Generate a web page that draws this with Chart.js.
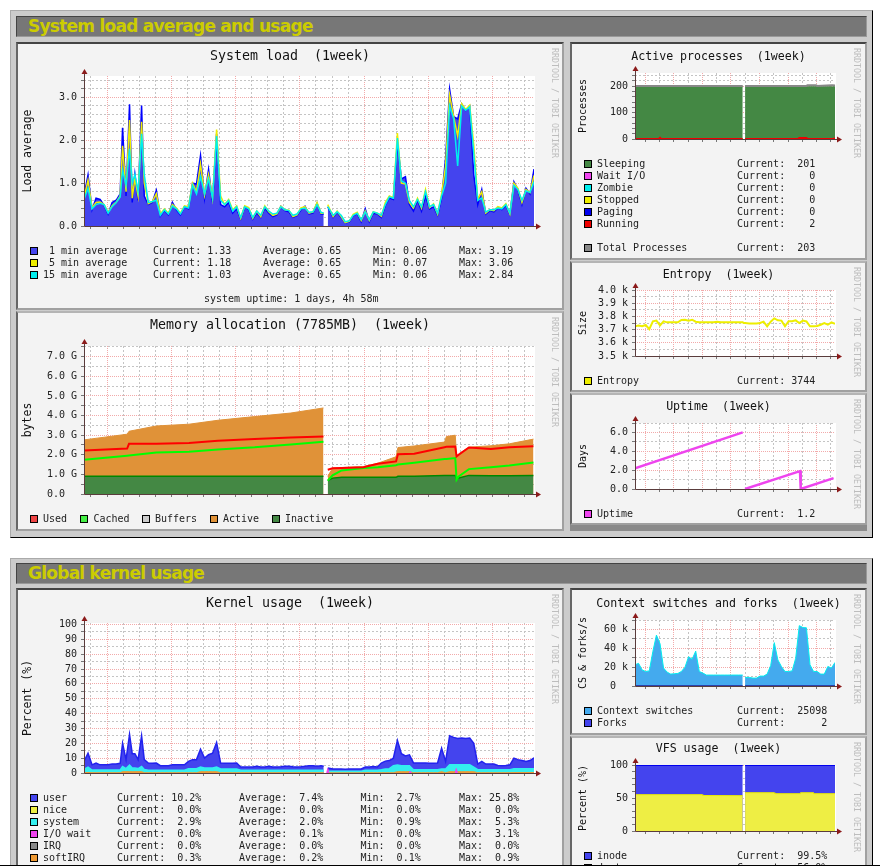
<!DOCTYPE html>
<html>
<head>
<meta charset="utf-8">
<title>System load average and usage</title>
<script src="https://cdn.jsdelivr.net/npm/chart.js@4/dist/chart.umd.min.js"></script>
<style>
html, body { margin: 0; padding: 0; background: #fff; overflow: hidden; width: 880px; height: 866px; }
#page { position: absolute; left: 0; top: 0; width: 880px; height: 866px; overflow: hidden; }
.section { position: absolute; box-sizing: border-box; background: #ccc; border: 1px solid #aaa; border-right-color: #000; border-bottom-color: #000; }
.head { position: absolute; box-sizing: border-box; background: #777; border: 1px solid #444; border-right-color: #999; border-bottom-color: #999;
        color: #cccc00; font: bold 17px "DejaVu Sans", sans-serif; line-height: 19px; padding-left: 11px; letter-spacing: -0.75px; }
.panel { position: absolute; box-sizing: border-box; background: #f3f3f3; border: 2px solid #b4b4b4; border-left-color: #666; border-right-color: #a0a0a0; border-bottom-color: #a0a0a0; }
.panel.first { border-top-color: #444; }
canvas { position: absolute; }
.txt { position: absolute; white-space: pre; font-family: "DejaVu Sans Mono", monospace; color: #222; }
.tag { position: absolute; white-space: pre; font: 8.3px "DejaVu Sans Mono", monospace; color: #bdbdbd; writing-mode: vertical-rl; }
.sw { position: absolute; box-sizing: border-box; width: 8px; height: 8px; border: 1px solid #000; }
</style>
</head>
<body>
<div id="page"></div>
<script>
// sample times in hours since the left edge of the 1 week window, with the outage around Sunday
var bigHours = [];
for (var k = 0; k < 10; k++) bigHours.push(k * 1.5);
bigHours.push(14.4, 15.7, 17, 18, 19, 20.2, 21.5, 22.5);
for (k = 16; k < 60; k++) bigHours.push(k * 1.5);
bigHours.push(89.5, 90, 91);
for (k = 62; k <= 112; k++) bigHours.push(k * 1.5);

var smallHours = [];
for (k = 0; k < 30; k++) smallHours.push(k * 3);
smallHours.push(90.5, 91.5, 92.5);
for (k = 32; k <= 56; k++) smallHours.push(k * 3);

var bigTickHours = [];
for (k = 0; k < 28; k++) bigTickHours.push(2.6 + k * 6);
var smallTickHours = [];
for (k = 0; k < 14; k++) smallTickHours.push(8.6 + k * 12);

var dayLabels = ['13', '14', '15', '16', '17', '18', '19'];
var weekLabels = ['Fri', 'Sun', 'Tue'];

// System load
var load1 = [.70,1.19,.38,.65,.62,.48,.28,.55,.60,.75, 2.29,.70,2.84,.55,1.21,.60,2.81,.70,.50,.55,.83,.23,
  .36,.26,.55,.38,.26,.45,.40,1.0,.98,1.64, .65,1.32,.55,2.15,.50,.45,.55,.30,.40,.16,
  .45,.38,.16,.30,.20,.42,.30,.22,.26,.46, .36,.33,.20,.24,.38,.46,.28,.30,.53,.28,
  .28,null,.45,
  .20,.32,.20,.07,.09,.24,.29,.10,.40,.10,.30,.28,.20,.48,.65,.62,1.95,1.1,1.15,.5,.35,.6,.35,.7,.4,.45,.25,.65,1.58,
  3.19,2.55,2.5,2.85,2.7,2.8,1.2,.5,.85,.28,.36,.33,.42,.38,.48,.27,1.03,.85,.5,.88,.75,1.33];
var load5 = [.66,1.07,.42,.55,.56,.50,.32,.47,.55,.70, 1.87,.80,2.47,.65,1.10,.70,2.43,1.00,.52,.57,.75,.28,
  .40,.30,.50,.42,.30,.47,.45,1.00,.80,1.45, .72,1.20,.65,2.25,.70,.50,.62,.38,.47,.18,
  .47,.43,.18,.35,.22,.47,.33,.25,.28,.46, .38,.37,.22,.26,.42,.45,.30,.33,.55,.30,
  .30,null,.50,
  .22,.35,.22,.08,.11,.27,.32,.13,.35,.13,.33,.30,.23,.55,.70,.66,2.17,1.0,.98,.55,.42,.65,.42,.85,.43,.52,.28,.75,1.40,
  3.05,2.55,2.1,2.85,2.72,2.82,1.9,.62,.8,.3,.38,.36,.45,.42,.52,.28,1.0,.88,.55,.85,.78,1.18];
var load15 = [.62,.88,.40,.50,.53,.50,.30,.45,.55,.68, 1.30,.95,1.80,1.00,1.20,.80,2.15,1.20,.55,.57,.60,.25,
  .38,.28,.47,.40,.28,.45,.42,.95,.75,1.15, .75,1.10,.65,2.10,.60,.50,.60,.35,.45,.20,
  .45,.40,.20,.35,.25,.45,.35,.28,.30,.45, .38,.36,.25,.28,.40,.42,.32,.33,.50,.32,
  .30,null,.45,
  .25,.33,.25,.10,.12,.25,.30,.15,.33,.15,.33,.30,.25,.50,.68,.65,2.05,1.05,1.0,.6,.45,.62,.45,.8,.45,.5,.3,.7,1.0,
  2.8,2.5,1.4,2.8,2.7,2.78,1.7,.6,.65,.33,.38,.38,.42,.4,.5,.3,.95,.85,.6,.82,.78,1.03];

// Memory allocation, in G
var memHours = [0,16.1,16.8,27,39.2,50,63.7,77.2,89.4,90,91,92.8,96.2,104.3,109.7,116.5,117.2,123.3,134.6,135.3,138.6,139.1,139.9,143.7,151.9,158.8,167.8];
var memActive = [2.76,3.05,3.2,3.47,3.56,3.76,3.95,4.13,4.39,null,.9,1.32,1.35,1.4,1.57,1.9,2.37,2.45,2.65,2.93,3.0,1.9,2.05,2.39,2.46,2.56,2.8];
var memUsed = [2.22,2.32,2.56,2.56,2.6,2.72,2.8,2.88,2.93,null,1.24,1.31,1.33,1.37,1.54,1.66,2.03,2.05,2.39,2.41,2.42,1.92,2.0,2.37,2.3,2.39,2.44];
var memCached = [1.75,1.95,1.96,2.12,2.15,2.27,2.38,2.53,2.66,null,.68,.95,1.2,1.32,1.36,1.47,1.5,1.6,1.78,1.78,1.83,.73,.9,1.27,1.37,1.45,1.61];
var memInactive = [.9,.9,.9,.9,.9,.9,.9,.9,.9,null,.68,.81,.85,.85,.85,.85,.9,.9,.95,.95,.95,.76,.82,.95,.93,.93,.95];

// Active processes
var procHours = [0,20,21,22,90.5,91.5,92.5,137,138,144,145,152,153,165,166,168];
var procSleeping = [198,198,198,198,198,null,198,198,198,198,198,198,198,198,198,198];
var procTotal = [201,201,201,201,201,null,201,201,201,201,204,204,201,204,204,203];
var procRunning = [0,0,4,0,0,null,0,0,4,4,0,0,0,0,0,2];

// Entropy
var entropy = [3725,3730,3725,3735,3703,3763,3768,3732,3763,3755, 3755,3755,3755,3773,3775,3768,3775,3760,3755,3755,
  3755,3755,3755,3760,3755,3755,3755,3755,3755,3755, 3755,3750,3750,
  3747,3747,3747,3750,3760,3725,3760,3785,3770,3768,3725,3763,3763,3770,3750,3768,3762,3725,3725,3727,3737,3750,3737,3755,3744];

// Uptime, in days
var uptimeHours = [0,90.5,91,92.4,138.6,139.2,166.8];
var uptimeDays = [2.2,6,null,0,1.9,0,1.15];

// Kernel usage, in percent
var kernelUser = [7.8,13.3,5.5,6.7,5.5,5.5,5.5,6,6,6.5, 20,9,26,13,13,9,25,9,6.7,6.5,6.7,4.9,
  4.9,4.9,5.5,5.5,5.5,5.5,7.8,9,9,16, 10,12.3,13.3,20.5,6.7,6.5,6.5,6.5,6.7,4,
  4,4,4,4.5,4,4,4.5,4,4,4.2, 4.5,4.5,4.2,4,4.2,4.5,4.9,4.9,4.5,4.9,
  4.5,null,3.3,
  2.7,2.7,2.7,2.6,2.7,2.7,2.7,2.7,4,4,4.3,4,6.7,8,8.4,10,22,13,11.5,12.2,6.8,6.7,6.7,6.7,6.5,6.5,6.7,16.7,7.8,
  25,24,23.3,23.5,23.3,23.5,20,6,7.8,6,6,6,5,4.9,5,5.5,10,9,8.4,7.8,8.4,10.2];
var kernelSystem = [2.4,4,2,2,2,2,2,2,2,2.1, 4.4,3,5.3,3.3,3.3,3,4.4,2.4,1.9,1.9,1.9,1.9,
  1.9,1.9,1.9,1.9,1.9,1.9,2.9,2.9,2.9,4, 3.3,3.3,3.3,4,2.7,2.7,2.7,2.7,2.7,1.8,
  1.8,1.8,1.8,1.8,1.8,1.8,1.8,1.8,1.8,1.8, 1.8,1.8,1.8,1.8,1.8,1.8,1.8,1.8,1.8,1.8,
  1.8,null,1.2,
  1.2,1.2,1.2,1.2,1.2,1.2,1.2,1.2,1.9,1.9,1.9,1.9,2.2,2.7,2.9,4.9,5.3,4.9,4.9,4.9,2.2,2.2,2.2,2.2,2.2,2.2,2.2,2.7,2.7,
  5.5,5.5,5.5,5.5,5.5,5.5,4,2.2,2.2,2.2,2.2,2.2,2.2,2.2,2.2,2.2,2.9,2.9,2.9,2.9,2.9,2.9];
var kernelSoftirq = [.2,.3,.2,.2,.2,.2,.2,.2,.2,.2, .9,.9,.9,.9,.9,.9,.9,.2,.2,.2,.2,.2,
  .2,.2,.2,.2,.2,.2,.2,.2,.2,.9, .9,.9,.9,.9,.2,.2,.2,.2,.2,.2,
  .2,.2,.2,.2,.2,.2,.2,.2,.2,.2, .2,.2,.2,.2,.2,.2,.2,.2,.2,.2,
  .2,null,.2,
  .1,.1,.1,.1,.1,.1,.1,.1,.2,.2,.2,.2,.2,.2,.2,.2,.9,.9,.9,.9,.2,.2,.2,.2,.2,.2,.2,.9,.2,
  .9,.9,.9,.9,.9,.9,.9,.2,.2,.2,.2,.2,.2,.2,.2,.2,.3,.3,.3,.3,.3,.3];
var ioWaitHours = [90.6,91,91.4,92,121.4,121.8,122.2,123,138.6,139,139.4];
var ioWaitPct = [0,3.1,0,null,0,1.2,0,null,0,3,0];

// Context switches and forks, in thousands
var contextSwitches = [22.5,24,17,15.4,16,36.5,54,45,19,14.7, 12.6,13,13.3,15.4,20,31,28.4,37,15.4,13.7,
  11.6,11.6,11.6,11.6,11.6,11.6,11.6,11.6,11.6,11.6, 11.6,null,9.1,
  9.1,8.4,8.4,10.5,10.5,12.6,21.7,46,27.7,20.7,15.4,15.4,16,29.5,64,62,61.7,22.5,15.4,15.4,12.6,12.6,20.7,19,25];
var forkHours = [0,90.5,91.5,92.5,168];
var forks = [.05,.05,null,.05,.05];

// VFS usage, in percent
var vfsHours = [0,56.6,57,90.5,91.5,92.5,117,117.5,138.6,139,149.8,150,168];
var vfsInode = [99.5,99.5,99.5,99.5,null,99.5,99.5,99.5,99.5,99.5,99.5,99.5,99.5];
var vfsDentry = [55,55,53.7,53.5,null,58,58,56.5,56.5,58,58,56.5,56.5];

// legend rows: colour, then text columns
var loadRows = [
  ['#4444ee', ' 1 min average', 'Current: 1.33', 'Average: 0.65', 'Min: 0.06', 'Max: 3.19'],
  ['#eeee00', ' 5 min average', 'Current: 1.18', 'Average: 0.65', 'Min: 0.07', 'Max: 3.06'],
  ['#00eeee', '15 min average', 'Current: 1.03', 'Average: 0.65', 'Min: 0.06', 'Max: 2.84']
];
var memRows = [['#ee4444', 'Used'], ['#44ee44', 'Cached'], ['#cccccc', 'Buffers'], ['#e09238', 'Active'], ['#448844', 'Inactive']];
var procRows = [
  ['#448844', 'Sleeping', 'Current:  201'], ['#ee44ee', 'Wait I/O', 'Current:    0'], ['#00eeee', 'Zombie', 'Current:    0'],
  ['#eeee00', 'Stopped', 'Current:    0'], ['#0000ee', 'Paging', 'Current:    0'], ['#ee0000', 'Running', 'Current:    2']
];
var kernelRows = [
  ['#4444ee', 'user', 'Current: 10.2%', 'Average:  7.4%', 'Min:  2.7%', 'Max: 25.8%'],
  ['#eeee44', 'nice', 'Current:  0.0%', 'Average:  0.0%', 'Min:  0.0%', 'Max:  0.0%'],
  ['#33eeee', 'system', 'Current:  2.9%', 'Average:  2.0%', 'Min:  0.9%', 'Max:  5.3%'],
  ['#ee44ee', 'I/O wait', 'Current:  0.0%', 'Average:  0.1%', 'Min:  0.0%', 'Max:  3.1%'],
  ['#888888', 'IRQ', 'Current:  0.0%', 'Average:  0.0%', 'Min:  0.0%', 'Max:  0.0%'],
  ['#ee9933', 'softIRQ', 'Current:  0.3%', 'Average:  0.2%', 'Min:  0.1%', 'Max:  0.9%'],
  ['#44cccc', 'steal', 'Current:  0.0%', 'Average:  0.0%', 'Min:  0.0%', 'Max:  0.0%']
];

var page = document.getElementById('page');

function addDiv(cls, x, y, w, h, text) {
  var d = document.createElement('div');
  d.className = cls;
  d.style.left = x + 'px';
  d.style.top = y + 'px';
  if (w) d.style.width = w + 'px';
  if (h) d.style.height = h + 'px';
  if (text) d.textContent = text;
  page.appendChild(d);
  return d;
}
function addText(x, cy, str, size) {
  var d = addDiv('txt', x, cy - 7, 0, 14, str);
  d.style.fontSize = (size || 10) + 'px';
  d.style.lineHeight = '14px';
  return d;
}
function addTitle(box, cy, str, size) {
  var d = addText(box[0], cy, str, size);
  d.style.width = box[2] + 'px';
  d.style.textAlign = 'center';
  d.style.color = '#111';
}
function addSwatch(x, cy, color) {
  addDiv('sw', x, cy - 4, 0, 0).style.background = color;
}
function legendTable(rows, firstY, swX, textX, colX) {
  rows.forEach(function (row, i) {
    var cy = firstY + i * 12;
    addSwatch(swX, cy, row[0]);
    addText(textX, cy, row[1]);
    for (var c = 2; c < row.length; c++) addText(colX[c - 2], cy, row[c]);
  });
}
function pts(hours, values) {
  return values.map(function (v, i) { return { x: hours[i], y: v }; });
}
function area(label, hours, values, fill, line, width) {
  return { label: label, data: pts(hours, values), backgroundColor: fill, borderColor: line, borderWidth: width, fill: 'origin', pointRadius: 0, tension: 0 };
}
function line(label, hours, values, color, width) {
  return { label: label, data: pts(hours, values), borderColor: color, borderWidth: width, fill: false, pointRadius: 0, tension: 0 };
}

// white plot background, then axis lines with the little arrows on top of the data
var rrdFrame = {
  id: 'rrdFrame',
  beforeDraw: function (chart) {
    var a = chart.chartArea, c = chart.ctx;
    c.save();
    c.fillStyle = '#fff';
    c.fillRect(a.left, a.top, a.right - a.left + 1, a.bottom - a.top);
    c.restore();
  },
  afterDraw: function (chart) {
    var a = chart.chartArea, c = chart.ctx, x = a.left + 0.5, y = a.bottom + 0.5;
    c.save();
    c.strokeStyle = '#5a3c3c';
    c.lineWidth = 1;
    c.beginPath();
    c.moveTo(x, a.top - 4);
    c.lineTo(x, y);
    c.lineTo(a.right + 4, y);
    c.stroke();
    c.fillStyle = '#8b1a1a';
    c.beginPath();
    c.moveTo(x, a.top - 7);
    c.lineTo(x - 3, a.top - 2);
    c.lineTo(x + 3, a.top - 2);
    c.closePath();
    c.fill();
    c.beginPath();
    c.moveTo(a.right + 7, y);
    c.lineTo(a.right + 2, y - 3);
    c.lineTo(a.right + 2, y + 3);
    c.closePath();
    c.fill();
    c.restore();
  }
};

function makeChart(cfg) {
  var box = cfg.box, big = cfg.big;
  var cv = document.createElement('canvas');
  cv.width = box[2];
  cv.height = box[3];
  cv.style.left = box[0] + 'px';
  cv.style.top = box[1] + 'px';
  page.appendChild(cv);

  var pad = big ? 5 : 7;
  var hourTicks = big ? bigTickHours : smallTickHours;
  var yTicks = [];
  for (var v = 0; cfg.yMin + v * cfg.yStep <= cfg.yMax + 1e-6; v++) yTicks.push(cfg.yMin + v * cfg.yStep);

  function xIsMajor(i) { return big ? i % 4 === 1 : i % 2 === 0; }
  function gridColor(major) { return major ? '#f2aaaa' : '#c4c4c4'; }

  new Chart(cv.getContext('2d'), {
    type: 'line',
    data: { datasets: cfg.datasets },
    plugins: [rrdFrame],
    options: {
      responsive: false,
      animation: false,
      devicePixelRatio: 1,
      layout: { padding: { left: pad, top: cfg.plot[1] - box[1], right: box[0] + box[2] - cfg.plot[2], bottom: box[1] + box[3] - cfg.plot[3] } },
      plugins: { legend: { display: false }, title: { display: false }, tooltip: { enabled: false } },
      scales: {
        x: {
          type: 'linear',
          min: 0,
          max: 168,
          afterFit: function (s) { s.height = 0; },
          afterBuildTicks: function (s) { s.ticks = hourTicks.map(function (h) { return { value: h }; }); },
          border: {
            display: false,
            dash: function (ctx) { return xIsMajor(ctx.index) ? [1, 1] : [2, 2]; }
          },
          grid: {
            color: function (ctx) { return gridColor(xIsMajor(ctx.index)); },
            tickColor: '#777',
            tickLength: 3
          },
          ticks: {
            autoSkip: false,
            maxRotation: 0,
            padding: 1,
            color: '#222',
            font: { family: 'DejaVu Sans Mono', size: 10 },
            callback: function (value, i) {
              if (big) return i % 4 === 3 ? dayLabels[(i - 3) / 4] : '';
              return i % 4 === 3 ? weekLabels[(i - 3) / 4] : '';
            }
          }
        },
        y: {
          type: 'linear',
          min: cfg.yMin,
          max: cfg.yMax,
          afterFit: function (s) { s.width = cfg.plot[0] - box[0] - pad; },
          afterBuildTicks: function (s) { s.ticks = yTicks.map(function (t) { return { value: t }; }); },
          border: {
            display: false,
            dash: function (ctx) { return ctx.index % cfg.yEvery === 0 ? [1, 1] : [2, 2]; }
          },
          grid: {
            color: function (ctx) { return gridColor(ctx.index % cfg.yEvery === 0); },
            tickColor: '#777',
            tickLength: 3
          },
          ticks: {
            autoSkip: false,
            padding: 4,
            color: '#222',
            font: { family: 'DejaVu Sans Mono', size: 10 },
            callback: function (value, i) { return i % cfg.yEvery === 0 ? cfg.fmt(value) : ''; }
          },
          title: {
            display: true,
            text: cfg.yTitle,
            color: '#111',
            padding: 0,
            font: { family: 'DejaVu Sans Mono', size: big ? 11.5 : 10 }
          }
        }
      }
    }
  });
  addDiv('tag', cfg.tagX, box[1] + 6, 0, 0, 'RRDTOOL / TOBI OETIKER');
}

// first section
addDiv('section', 10, 10, 863, 528);
addDiv('head', 16, 16, 851, 21, 'System load average and usage');
var loadBox = [16, 42, 548, 268], memBox = [16, 311, 548, 220];
var procBox = [570, 42, 297, 218], entBox = [570, 261, 297, 131], upBox = [570, 393, 297, 132];
[loadBox, procBox].forEach(function (b) { addDiv('panel first', b[0], b[1], b[2], b[3]); });
[memBox, entBox, upBox].forEach(function (b) { addDiv('panel', b[0], b[1], b[2], b[3]); });
addDiv('bar', 570, 525, 297, 6).style.cssText += ';position:absolute;background:#8a8a8a';

// second section
addDiv('section', 10, 558, 863, 340);
addDiv('head', 16, 563, 851, 21, 'Global kernel usage');
var kernelBox = [16, 588, 548, 290], csBox = [570, 588, 297, 147], vfsBox = [570, 736, 297, 150];
[kernelBox, csBox].forEach(function (b) { addDiv('panel first', b[0], b[1], b[2], b[3]); });
addDiv('panel', vfsBox[0], vfsBox[1], vfsBox[2], vfsBox[3]);

var f1 = function (v) { return v.toFixed(1); };
var bigCols = [153, 263, 373, 459];

makeChart({
  big: true, box: loadBox, plot: [84, 76, 534, 226], tagX: 550, yTitle: 'Load average',
  yMin: 0, yMax: 3.5, yStep: 0.2, yEvery: 5, fmt: f1,
  datasets: [
    line('15 min average', bigHours, load15, '#00eeee', 1.5),
    line('5 min average', bigHours, load5, '#eeee00', 1.5),
    area('1 min average', bigHours, load1, '#4444ee', '#0000ff', 1.5)
  ]
});
addTitle(loadBox, 56, 'System load  (1week)', 13.3);
legendTable(loadRows, 251, 30, 43, bigCols);
addText(204, 298.5, 'system uptime: 1 days, 4h 58m');

makeChart({
  big: true, box: memBox, plot: [84, 346, 534, 494], tagX: 550, yTitle: 'bytes',
  yMin: 0, yMax: 7.55, yStep: 0.5, yEvery: 2,
  fmt: function (v) { return v === 0 ? '0.0  ' : v.toFixed(1) + ' G'; },
  datasets: [
    line('Used', memHours, memUsed, '#ff0000', 2),
    line('Cached', memHours, memCached, '#00ff00', 2),
    area('Inactive', memHours, memInactive, '#448844', '#008800', 1.5),
    area('Active', memHours, memActive, '#e09238', '#e09238', 1)
  ]
});
addTitle(memBox, 324.5, 'Memory allocation (7785MB)  (1week)', 13.3);
[30, 80, 142, 210, 272].forEach(function (x, i) { addSwatch(x, 518.5, memRows[i][0]); });
[43, 93.5, 155, 223, 285].forEach(function (x, i) { addText(x, 518.5, memRows[i][1]); });

makeChart({
  box: procBox, plot: [635, 73, 835, 139], tagX: 852, yTitle: 'Processes',
  yMin: 0, yMax: 250, yStep: 20, yEvery: 5, fmt: function (v) { return String(v); },
  datasets: [
    line('Running', procHours, procRunning, '#ee0000', 2),
    line('Total Processes', procHours, procTotal, '#888888', 2),
    area('Sleeping', procHours, procSleeping, '#448844', '#448844', 1)
  ]
});
addTitle(procBox, 56, 'Active processes  (1week)', 11.6);
legendTable(procRows, 163.5, 584, 597, [737]);
legendTable([['#888888', 'Total Processes', 'Current:  203']], 247.5, 584, 597, [737]);

makeChart({
  box: entBox, plot: [635, 290, 835, 356], tagX: 852, yTitle: 'Size',
  yMin: 3500, yMax: 4000, yStep: 50, yEvery: 2, fmt: function (v) { return (v / 1000).toFixed(1) + ' k'; },
  datasets: [line('Entropy', smallHours, entropy, '#eeee00', 2)]
});
addTitle(entBox, 273.5, 'Entropy  (1week)', 11.6);
legendTable([['#eeee00', 'Entropy', 'Current: 3744']], 380.5, 584, 597, [737]);

makeChart({
  box: upBox, plot: [635, 423, 835, 489], tagX: 852, yTitle: 'Days',
  yMin: 0, yMax: 7, yStep: 1, yEvery: 2, fmt: f1,
  datasets: [line('Uptime', uptimeHours, uptimeDays, '#ee44ee', 2.5)]
});
addTitle(upBox, 406, 'Uptime  (1week)', 11.6);
legendTable([['#ee44ee', 'Uptime', 'Current:  1.2']], 513.5, 584, 597, [737]);

makeChart({
  big: true, box: kernelBox, plot: [84, 623, 534, 773], tagX: 550, yTitle: 'Percent (%)',
  yMin: 0, yMax: 101, yStep: 5, yEvery: 2, fmt: function (v) { return String(v); },
  datasets: [
    area('I/O wait', ioWaitHours, ioWaitPct, '#ee44ee', '#ee44ee', 1),
    area('softIRQ', bigHours, kernelSoftirq, '#ee9933', '#ee9933', 1),
    area('system', bigHours, kernelSystem, '#33eeee', '#33eeee', 1.5),
    area('user', bigHours, kernelUser, '#4444ee', '#2222ee', 1.5)
  ]
});
addTitle(kernelBox, 603, 'Kernel usage  (1week)', 13.3);
legendTable(kernelRows, 797.5, 30, 43, [117, 239, 360.5, 459]);

makeChart({
  box: csBox, plot: [635, 620, 835, 686], tagX: 852, yTitle: 'CS & forks/s',
  yMin: 0, yMax: 70, yStep: 10, yEvery: 2, fmt: function (v) { return v === 0 ? '0  ' : v + ' k'; },
  datasets: [
    line('Forks', forkHours, forks, '#222299', 1.5),
    area('Context switches', smallHours, contextSwitches, '#44aaee', '#00eeee', 1)
  ]
});
addTitle(csBox, 603, 'Context switches and forks  (1week)', 11.6);
legendTable([['#44aaee', 'Context switches', 'Current:  25098'], ['#4444ee', 'Forks', 'Current:      2']], 710.5, 584, 597, [737]);

makeChart({
  box: vfsBox, plot: [635, 765, 835, 831], tagX: 852, yTitle: 'Percent (%)',
  yMin: 0, yMax: 100, yStep: 10, yEvery: 5, fmt: function (v) { return String(v); },
  datasets: [
    area('dentry', vfsHours, vfsDentry, '#eeee44', '#eeee00', 1),
    area('inode', vfsHours, vfsInode, '#4444ee', '#0000ee', 1.5)
  ]
});
addTitle(vfsBox, 748, 'VFS usage  (1week)', 11.6);
legendTable([['#4444ee', 'inode', 'Current:  99.5%'], ['#eeee44', 'dentry', 'Current:  56.0%']], 855.5, 584, 597, [737]);

// dark rule at the bottom edge of the shot
addDiv('rule', 0, 865, 880, 1).style.cssText += ';position:absolute;background:#000';
</script>
</body>
</html>
